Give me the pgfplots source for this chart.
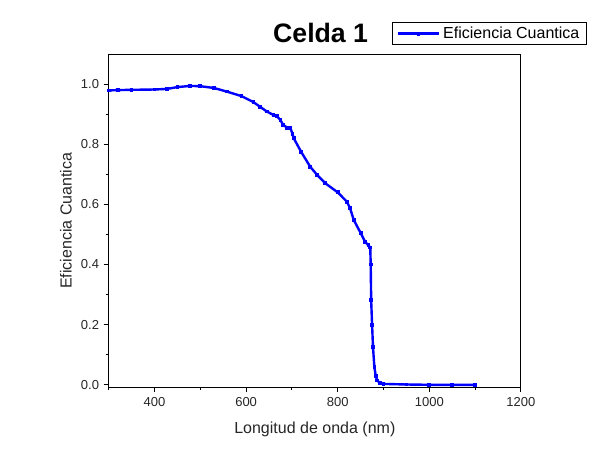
\documentclass[border=0pt]{standalone}
\usepackage{fontspec}
\setmainfont{Liberation Sans}
\usepackage{pgfplots}
\pgfplotsset{compat=1.18}

% quantum efficiency
\begin{document}
\begin{tikzpicture}
\path[use as bounding box] (-81.5pt,-60.2pt) rectangle (374.25pt,290.25pt);
\begin{axis}[
    scale only axis,
    width=309pt, height=249.75pt,
    xmin=300, xmax=1200, ymin=-0.008, ymax=1.1,
    xtick={400,600,800,1000,1200},
    minor xtick={300,500,700,900,1100},
    ytick={0,0.2,0.4,0.6,0.8,1.0},
    minor ytick={0.1,0.3,0.5,0.7,0.9},
    tick pos=left, tick align=outside,
    major tick length=3.75pt, minor tick length=2.25pt,
    every tick/.style={black, line width=0.75pt},
    axis line style={line width=0.75pt},
    /pgf/number format/assume math mode=true,
    /pgf/number format/1000 sep={},
    yticklabel style={/pgf/number format/fixed, /pgf/number format/fixed zerofill, /pgf/number format/precision=1},
    ticklabel style={font=\fontsize{9.75}{11}\selectfont, color=black!85},
    xlabel={Longitud de onda (nm)},
    ylabel={Eficiencia Cuantica},
    label style={font=\fontsize{12}{14}\selectfont, color=black!85},
    xlabel style={yshift=-5pt},
    title={Celda 1},
    title style={font=\fontsize{20}{24}\selectfont\bfseries, at={(0.514,1)}, anchor=base, yshift=3pt},
    legend style={at={(0.687,1.095)}, anchor=north west, draw=black, line width=0.75pt,
        font=\fontsize{12}{14}\selectfont, inner xsep=3pt, inner ysep=1pt, row sep=0pt},
    legend image code/.code={\draw[#1, mark repeat=2, mark phase=2] plot coordinates {(0cm,0cm) (0.55cm,0cm) (1.1cm,0cm)};},
]
\addplot[blue, line width=1.8pt, mark=square*, mark size=0.5pt, mark options={solid}] coordinates {
    (300,0.979) (320,0.980) (350,0.981) (400,0.982) (427,0.984) (450,0.990)
    (478,0.994) (500,0.993) (530,0.987) (558,0.975) (590,0.960) (616,0.940)
    (630,0.925) (645,0.909) (660,0.897) (667,0.894) (675,0.880) (681,0.864)
    (690,0.855) (697,0.853) (701,0.835) (704,0.820) (720,0.775) (740,0.725)
    (755,0.698) (773,0.670) (800,0.640) (820,0.609) (827,0.587) (835,0.548)
    (850,0.505) (860,0.475) (867,0.464) (871,0.457) (872,0.400) (873,0.281)
    (875,0.200) (877,0.125) (880,0.059) (883,0.030) (886,0.014) (893,0.006)
    (900,0.003) (950,0.001) (1000,0.000) (1050,0.000) (1100,0.000)
};
\addlegendentry{Eficiencia Cuantica}
\end{axis}
\end{tikzpicture}
\end{document}
